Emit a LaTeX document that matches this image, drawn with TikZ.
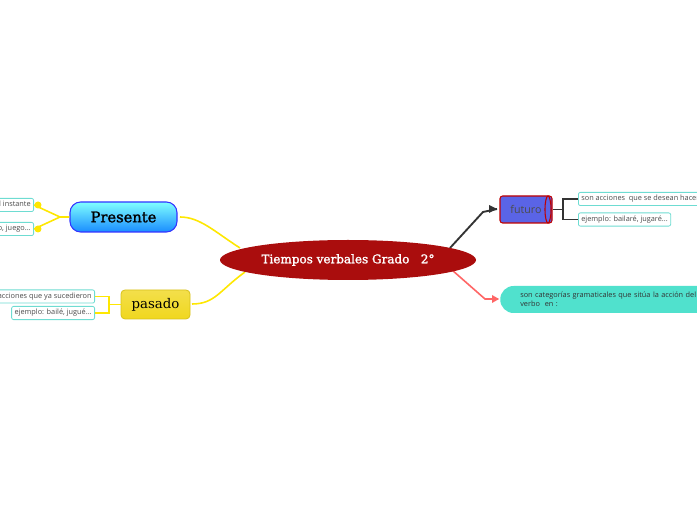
\documentclass[tikz,border=0pt]{standalone}
\usepackage{fontspec}
\setmainfont{Open Sans}
\newfontfamily\titlefont{DejaVu Serif}[FakeBold=1.5]
\newfontfamily\plainserif{DejaVu Serif}
\usetikzlibrary{shapes.geometric,arrows.meta}
\definecolor{teal1}{RGB}{80,225,205}
\definecolor{leafc}{RGB}{110,220,210}
\definecolor{futc}{RGB}{90,100,230}
\definecolor{goldc}{RGB}{240,215,30}
\begin{document}
\begin{tikzpicture}[x=0.75pt,y=-0.75pt,
 leaf/.style={draw=leafc,line width=0.6pt,fill=white,rounded corners=1.5pt,font=\fontsize{5.5}{6.5}\selectfont,text=black!70,inner sep=2.2pt,anchor=east},
 yl/.style={draw=yellow!90!orange,line width=1.2pt},
]
\useasboundingbox (0,0) rectangle (697,520);
\clip (0,0) rectangle (697,520);
% connectors
\draw[yl] (240,248) .. controls (215,232) and (200,217) .. (180,217);
\draw[yl] (245,272) .. controls (220,290) and (215,304) .. (192,304);
\draw[black!80,line width=1.4pt] (450,248) -- (483,212) -- (497,209);
\fill[black!80] (497,209) -- (489,205) -- (489,213) -- cycle;
\draw[red!60,line width=1.2pt] (452,270) -- (485,299) -- (498,299);
\fill[red!60] (499,299) -- (492,295) -- (492,303) -- cycle;
% central
\node[ellipse,fill=red!65!black!95,minimum width=256*0.75pt,minimum height=40*0.75pt,inner sep=0pt,font=\titlefont\fontsize{9}{10}\selectfont,text=white] (c) at (348,260) {Tiempos verbales Grado \ \ 2°};
% presente
\node[draw=blue!80,line width=0.8pt,top color=cyan!50,bottom color=blue!50!cyan!90,rounded corners=8pt,minimum width=107*0.75pt,minimum height=30*0.75pt,font=\titlefont\fontsize{11}{12}\selectfont] (pr) at (123.5,217) {Presente};
\node[draw=goldc!90!black,line width=0.6pt,top color=goldc!80,bottom color=goldc,rounded corners=3pt,minimum width=69*0.75pt,minimum height=29*0.75pt,font=\plainserif\fontsize{10}{11}\selectfont] (pa) at (155.5,304.5) {pasado};
\node[draw=red!75!black,line width=0.8pt,fill=futc,minimum width=52*0.75pt,minimum height=27*0.75pt,rounded corners=2pt,font=\fontsize{8}{9}\selectfont,text=black!70] (fu) at (526,209.5) {futuro};
\draw[red!75!black,line width=0.8pt] (548,209.5) ellipse (3 and 13.5);
\node[fill=teal1,rounded corners=10pt,minimum width=220*0.75pt,minimum height=27*0.75pt,anchor=west,align=left,text width=180*0.75pt,font=\fontsize{5.5}{7}\selectfont,text=black!80] (te) at (500,299.5) {son categorías gramaticales que sitúa la acción del verbo \ en :};
% leaves
\node[leaf] (l1) at (34,205) {son acciones que suceden en el instante};
\node[leaf] (l2) at (34,229) {ejemplo: bailo, juego...};
\node[leaf] (l3) at (95,296.5) {son acciones que ya sucedieron};
\node[leaf] (l4) at (95,313) {ejemplo: bailé, jugué...};
\node[leaf,anchor=west] (l5) at (578,199) {son acciones \ que se desean hacer};
\node[leaf,anchor=west] (l6) at (578,219.5) {ejemplo: bailaré, jugaré...};
% leaf connectors
\draw[yl] (pr.west) -- (60,217) -- (l1.east);
\draw[yl] (60,217) -- (l2.east);
\fill[yellow!90!orange] (l1.east)++(4,0) circle (3.5);
\fill[yellow!90!orange] (l2.east)++(4,0) circle (3.5);
\draw[yl] (pa.west) -- (109,304.5) -- (109,296.5) -- (l3.east);
\draw[yl] (109,304.5) -- (109,313) -- (l4.east);
\draw[black!80,line width=1.2pt] (fu.east) -- (563,209.5) -- (563,199) -- (l5.west);
\draw[black!80,line width=1.2pt] (563,209.5) -- (563,219.5) -- (l6.west);
\end{tikzpicture}
\end{document}
